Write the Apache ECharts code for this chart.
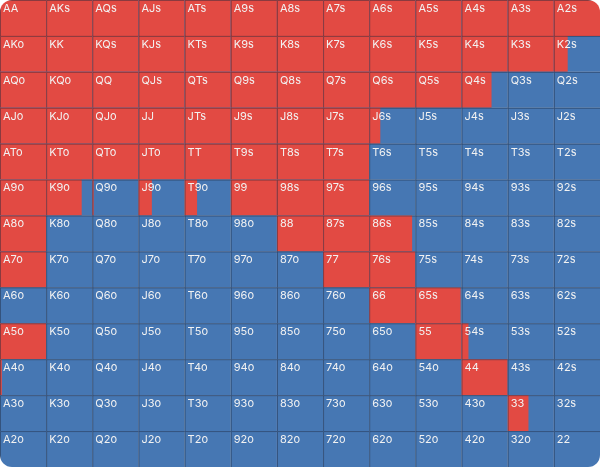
<!DOCTYPE html>
<html>
<head>
<meta charset="utf-8">
<script src="https://cdn.jsdelivr.net/npm/echarts@6/dist/echarts.min.js"></script>
<style>
  html, body { margin: 0; padding: 0; background: #fff; }
  #chart { width: 600px; height: 467px; border-radius: 12px; overflow: hidden; }
</style>
</head>
<body>
<div id="chart"></div>
<script>
const ranks = ["A", "K", "Q", "J", "T", "9", "8", "7", "6", "5", "4", "3", "2"];

// fraction of each cell that is raised (red), row by row
const rowA = [1, 1, 1, 1, 1, 1, 1, 1, 1, 1, 1, 1, 1];
const rowK = [1, 1, 1, 1, 1, 1, 1, 1, 1, 1, 1, 1, 0.3];
const rowQ = [1, 1, 1, 1, 1, 1, 1, 1, 1, 1, 0.65, 0, 0];
const rowJ = [1, 1, 1, 1, 1, 1, 1, 1, 0.24, 0, 0, 0, 0];
const rowT = [1, 1, 1, 1, 1, 1, 1, 1, 0, 0, 0, 0, 0];
const row9 = [1, 0.77, 0.03, 0.29, 0.27, 1, 1, 1, 0, 0, 0, 0, 0];
const row8 = [1, 0, 0, 0, 0, 0, 1, 1, 0.93, 0, 0, 0, 0];
const row7 = [1, 0, 0, 0, 0, 0, 0, 1, 1, 0, 0, 0, 0];
const row6 = [0, 0, 0, 0, 0, 0, 0, 0, 1, 0.98, 0, 0, 0];
const row5 = [1, 0, 0, 0, 0, 0, 0, 0, 0, 1, 0.15, 0, 0];
const row4 = [0.04, 0, 0, 0, 0, 0, 0, 0, 0, 0, 1, 0, 0];
const row3 = [0, 0, 0, 0, 0, 0, 0, 0, 0, 0, 0, 0.45, 0];
const row2 = [0, 0, 0, 0, 0, 0, 0, 0, 0, 0, 0, 0, 0];
const rows = [rowA, rowK, rowQ, rowJ, rowT, row9, row8, row7, row6, row5, row4, row3, row2];

function handName(r, c) {
  if (r === c) return ranks[r] + ranks[c];
  if (c > r) return ranks[r] + ranks[c] + "s";
  return ranks[c] + ranks[r] + "o";
}

let data = [];
rows.forEach((row, r) => {
  row.forEach((v, c) => data.push([c, r, v, handName(r, c)]));
});

const chart = echarts.init(document.getElementById("chart"));
chart.setOption({
  animation: false,
  grid: { left: 0, right: 0, top: 0, bottom: 0 },
  xAxis: { type: "category", data: ranks, show: false },
  yAxis: { type: "category", data: ranks, inverse: true, show: false },
  series: [{
    type: "custom",
    data,
    renderItem: (params, api) => {
      const p = api.coord([api.value(0), api.value(1)]);
      const s = api.size([1, 1]);
      const x = p[0] - s[0] / 2, y = p[1] - s[1] / 2;
      const frac = api.value(2);
      return {
        type: "group",
        children: [
          { type: "rect", shape: { x, y, width: s[0], height: s[1] }, style: { fill: "#4677b3" } },
          { type: "rect", shape: { x, y, width: s[0] * frac, height: s[1] }, style: { fill: "#e24a43" } },
          { type: "rect", shape: { x: x + 0.5, y: y + 0.5, width: s[0], height: s[1] },
            style: { fill: null, stroke: "rgba(30,40,60,0.45)", lineWidth: 1 } },
          { type: "text", x: x + 3, y: y + 3,
            style: { text: api.value(3), fill: "#f2f2f2", font: "11px Inter", textVerticalAlign: "top" } }
        ]
      };
    }
  }]
});
</script>
</body>
</html>
